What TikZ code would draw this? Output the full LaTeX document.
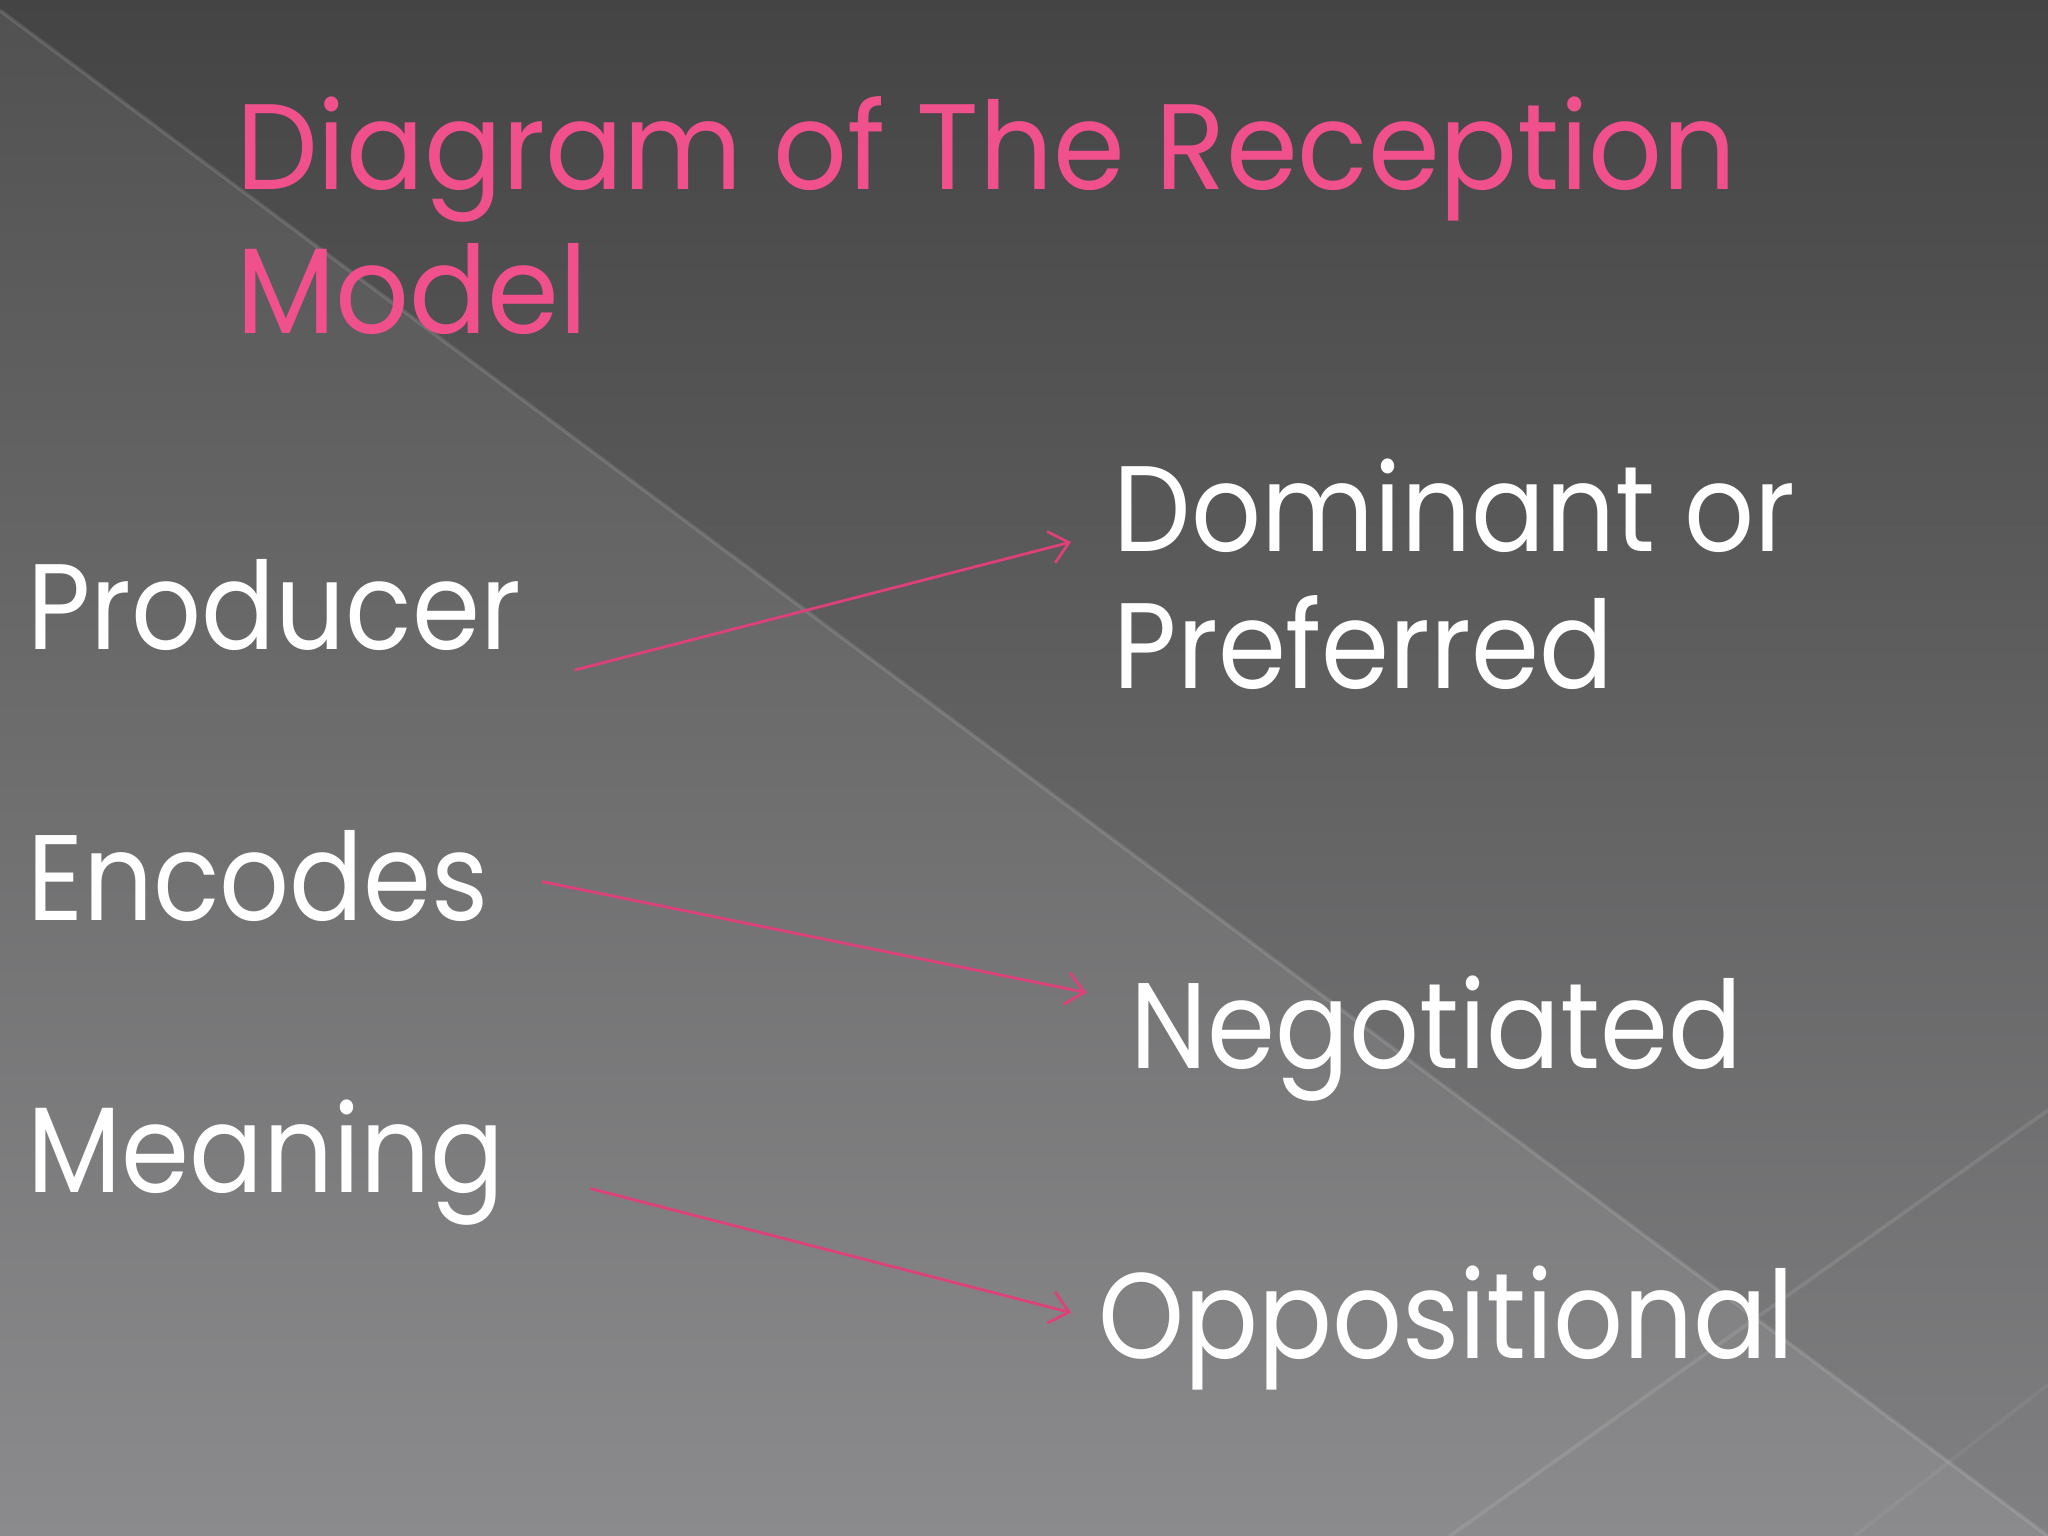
\documentclass[tikz,border=0pt]{standalone}
\usepackage{fontspec}
\usetikzlibrary{arrows.meta}
\setmainfont{Poppins}
\newfontfamily\bodyfont[FakeStretch=0.9]{Poppins}
\newfontfamily\ttlfont[FakeStretch=0.95]{Poppins}
\begin{document}
\begin{tikzpicture}[x=0.01cm,y=-0.01cm,
  body/.style={anchor=base west,inner sep=0,text=white,font=\bodyfont\fontsize{26.5}{30}\selectfont},
  ttl/.style={anchor=base west,inner sep=0,text=titlepink,font=\ttlfont\fontsize{26.5}{30}\selectfont},
  arr/.style={draw=arrowpink,line width=0.6pt,-{Straight Barb[length=4pt,width=7pt]}}]
\definecolor{titlepink}{HTML}{F0508C}
\definecolor{arrowpink}{HTML}{E0407A}
\useasboundingbox (0,0) rectangle (1568,1176);
\shade[top color={rgb,255:red,68;green,68;blue,68},bottom color={rgb,255:red,128;green,128;blue,130}] (0,0) rectangle (1568,1176);
\shade[top color={rgb,255:red,82;green,82;blue,82},bottom color={rgb,255:red,140;green,140;blue,142},opacity=0.95] (0,8) -- (1568,1176) -- (0,1176) -- cycle;
\draw[white,opacity=0.12,line width=0.8pt] (0,8) -- (1568,1176);
\draw[white,opacity=0.10,line width=0.8pt] (1568,850) -- (1110,1176);
\draw[white,opacity=0.06,line width=0.8pt] (1568,1060) -- (1420,1176);
\node[ttl] (t1) at (180,145) {Diagram of The Reception};
\node[ttl] (t2) at (180,255) {Model};
\node[body] (prod) at (20,497) {Producer};
\node[body] (enc) at (20,705) {Encodes};
\node[body] (mean) at (20,913) {Meaning};
\node[body] (dom) at (852,422) {Dominant or};
\node[body] (pref) at (852,527) {Preferred};
\node[body] (neg) at (865,818) {Negotiated};
\node[body] (opp) at (840,1040) {Oppositional};
\coordinate (a1) at (440,513); \coordinate (b1) at (820,415);
\coordinate (a2) at (415,675); \coordinate (b2) at (832,760);
\coordinate (a3) at (452,910); \coordinate (b3) at (820,1005);
\draw[arr] (a1) -- (b1);
\draw[arr] (a2) -- (b2);
\draw[arr] (a3) -- (b3);
\end{tikzpicture}
\end{document}
